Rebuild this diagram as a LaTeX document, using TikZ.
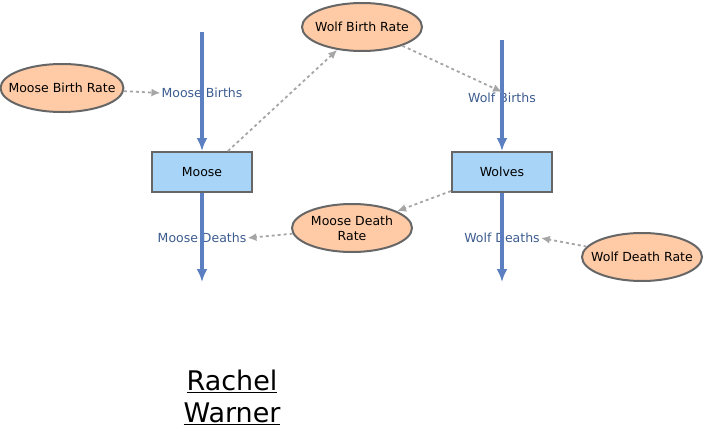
\documentclass[tikz,border=0pt]{standalone}
\usepackage{fontspec}
\setmainfont{DejaVu Sans}
\usetikzlibrary{shapes.geometric,arrows.meta}
\definecolor{stockfill}{HTML}{A8D4F7}
\definecolor{auxfill}{HTML}{FFCBA6}
\definecolor{flowblue}{HTML}{5B7FC0}
\definecolor{flowtext}{HTML}{3C5B8E}
\begin{document}
\begin{tikzpicture}[x=1pt,y=-1pt,
		stock/.style ={rectangle, fill=stockfill, draw=gray!80!black, line width=2pt,
			minimum width=100pt, minimum height=40pt, font=\fontsize{12.5}{14}\selectfont},
		aux/.style ={ellipse, fill=auxfill, draw=gray!80!black, line width=2pt,
			minimum width=120pt, minimum height=48pt, font=\fontsize{12.5}{15}\selectfont, align=center, inner xsep=-10pt, inner ysep=0pt},
		flow/.style ={draw=flowblue, line width=3.5pt, -{Latex[length=13pt,width=11pt]}},
		rate/.style ={font=\fontsize{12.5}{14}\selectfont, text=flowtext, inner sep=1pt},
		link/.style ={draw=gray!70, dashed, line width=1.8pt, -{Latex[length=9pt,width=8pt]}}]
		\useasboundingbox (0,0) rectangle (704,434);
		\node[stock] (M) at (202,172) {Moose};
		\node[stock] (W) at (502,172) {Wolves};
		\coordinate (Ms) at (202,32);
		\coordinate (Me) at (202,282);
		\coordinate (Ws) at (502,40);
		\coordinate (We) at (502,282);
		\node[rate] (MB) at (202,93) {Moose Births};
		\node[rate] (MD) at (202,238) {Moose Deaths};
		\node[rate] (WB) at (502,98) {Wolf Births};
		\node[rate] (WD) at (502,238) {Wolf Deaths};
		\node[aux] (MBR) at (62,88) {Moose Birth Rate};
		\node[aux] (WBR) at (362,27) {Wolf Birth Rate};
		\node[aux] (MDR) at (352,228) {Moose Death\\Rate};
		\node[aux] (WDR) at (642,257) {Wolf Death Rate};
		\path[flow] (Ms) -- (M); % births in
		\path[flow] (M) -- (Me); % deaths out
		\path[flow] (Ws) -- (W);
		\path[flow] (W) -- (We);
		\path[link] (MBR) -- (MB.west);
		\path[link] (M.north east) ++(-25,0) -- (WBR);
		\path[link] (WBR) -- (WB.north);
		\path[link] (W) -- (MDR);
		\path[link] (MDR) -- (MD.east);
		\path[link] (WDR) -- (WD.east);
		\node[font=\fontsize{27}{32}\selectfont] (N1) at (232,381) {\underline{Rachel}};
		\node[font=\fontsize{27}{32}\selectfont] (N2) at (232,414) {\underline{Warner}};
\end{tikzpicture}
\end{document}
